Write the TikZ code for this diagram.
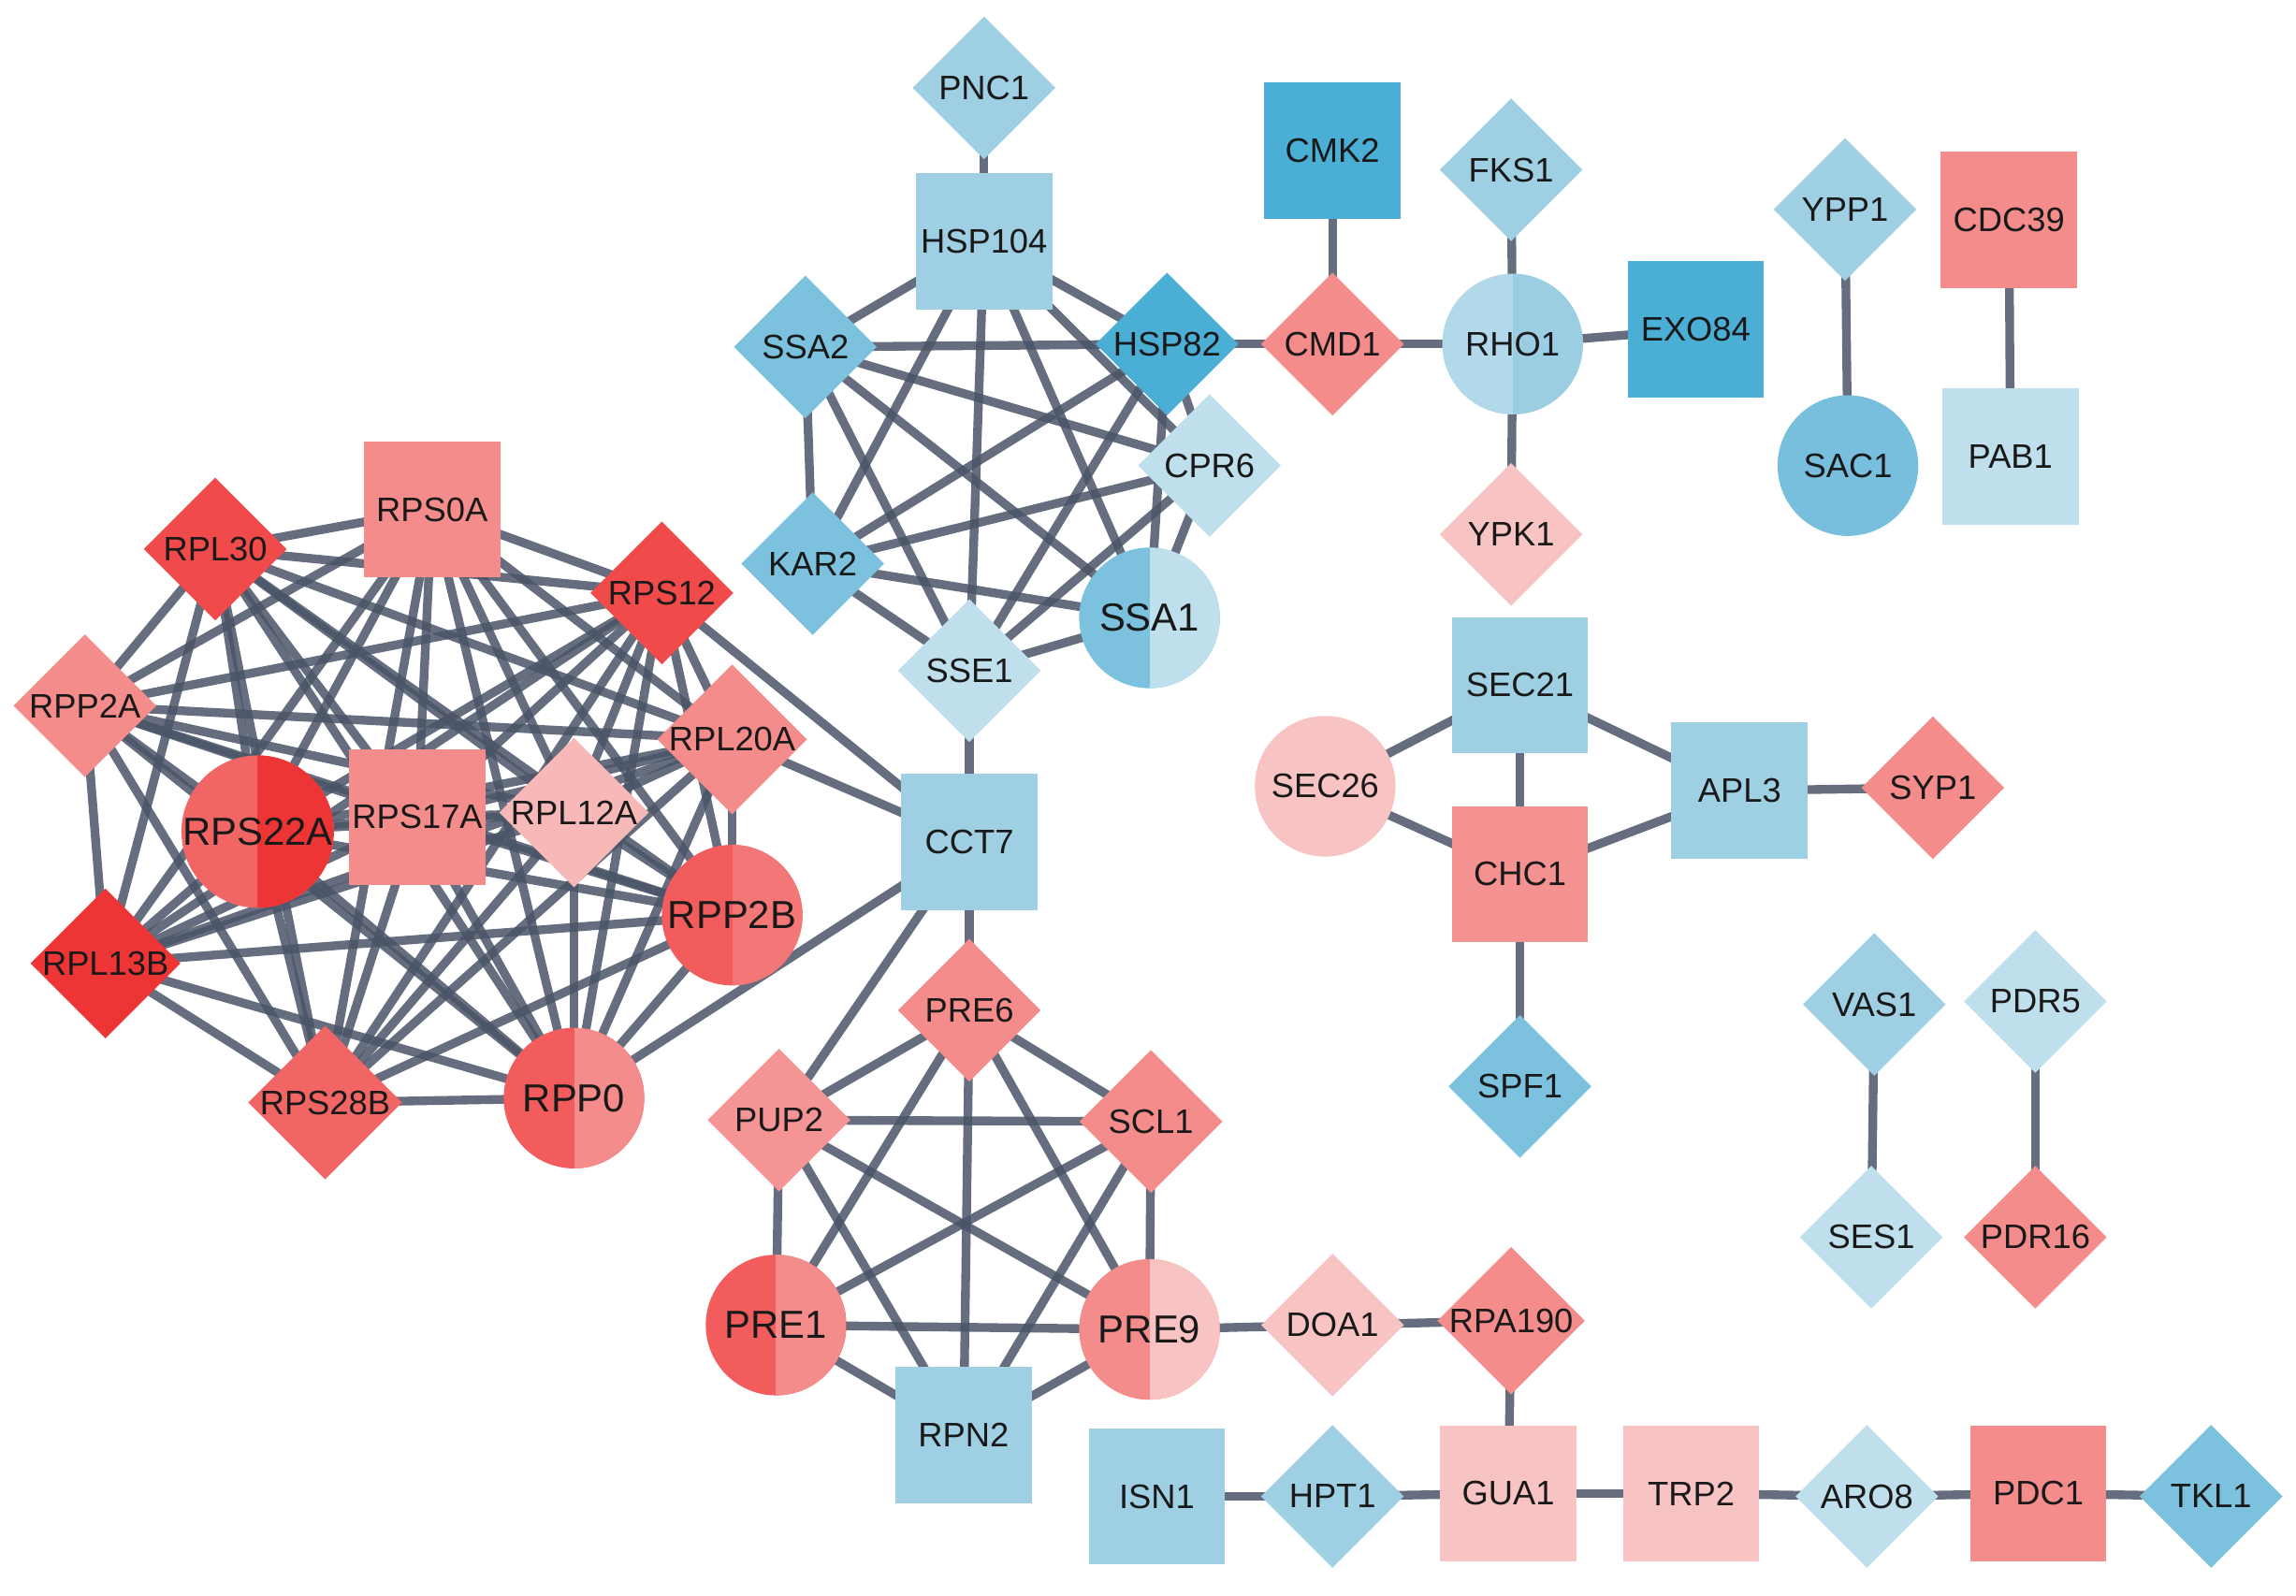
\documentclass[tikz,border=0pt]{standalone}
\usepackage{fontspec}
\setmainfont{Liberation Sans}
\usetikzlibrary{shapes.geometric,backgrounds}
\definecolor{lb}{HTML}{9ECFE3}
\definecolor{vlb}{HTML}{BEDFEB}
\definecolor{mb}{HTML}{7CC1DD}
\definecolor{db}{HTML}{4AAED5}
\definecolor{pk}{HTML}{F48C8C}
\definecolor{lpk}{HTML}{F8C3C3}
\definecolor{rd}{HTML}{F04A4A}
\definecolor{drd}{HTML}{EE3535}
\definecolor{edge}{HTML}{4A5467}
\tikzset{
 every node/.style={font=\fontsize{6.6}{7}\selectfont, text=black!90, inner sep=0pt},
 sq/.style={rectangle, minimum size=0.93cm, fill=#1},
 dm/.style={diamond, minimum size=0.98cm, fill=#1},
 ci/.style={circle, minimum size=0.96cm, fill=#1},
 split/.style 2 args={circle, minimum size=0.96cm, fill=#1,
   path picture={\fill[#2] (path picture bounding box.north) rectangle (path picture bounding box.south east);}},
 big/.style={font=\fontsize{7.6}{9}\selectfont},
 ed/.style={draw=edge, line width=1.7pt, opacity=0.85}
}
\begin{document}
\begin{tikzpicture}[x=0.01cm,y=-0.01cm]
\useasboundingbox (0,0) rectangle (1568,1090);
% nodes
\node[dm=lb] (PNC1) at (672,60) {PNC1};
\node[sq=lb] (HSP104) at (672,165) {HSP104};
\node[sq=db] (CMK2) at (910,103) {CMK2};
\node[dm=lb] (FKS1) at (1032,116) {FKS1};
\node[dm=lb] (YPP1) at (1260,143) {YPP1};
\node[sq=pk] (CDC39) at (1372,150) {CDC39};
\node[dm=mb] (SSA2) at (550,237) {SSA2};
\node[dm=db] (HSP82) at (797,235) {HSP82};
\node[dm=pk] (CMD1) at (910,235) {CMD1};
\node[split={lb!80!white}{lb!95!mb}] (RHO1) at (1033,235) {RHO1};
\node[sq=db] (EXO84) at (1158,225) {EXO84};
\node[dm=vlb] (CPR6) at (826,318) {CPR6};
\node[ci=mb!90!db] (SAC1) at (1262,318) {SAC1};
\node[sq=vlb] (PAB1) at (1373,312) {PAB1};
\node[dm=mb] (KAR2) at (555,385) {KAR2};
\node[split={mb}{vlb}, big] (SSA1) at (785,422) {SSA1};
\node[dm=lpk] (YPK1) at (1032,365) {YPK1};
\node[dm=vlb] (SSE1) at (662,458) {SSE1};
\node[sq=lb] (SEC21) at (1038,468) {SEC21};
\node[ci=lpk] (SEC26) at (905,537) {SEC26};
\node[sq=lb] (APL3) at (1188,540) {APL3};
\node[dm=pk] (SYP1) at (1320,538) {SYP1};
\node[sq=lb] (CCT7) at (662,575) {CCT7};
\node[sq=pk!90!lpk] (CHC1) at (1038,597) {CHC1};
\node[dm=lb] (VAS1) at (1280,686) {VAS1};
\node[dm=vlb] (PDR5) at (1390,684) {PDR5};
\node[dm=mb] (SPF1) at (1038,742) {SPF1};
\node[dm=vlb] (SES1) at (1278,845) {SES1};
\node[dm=pk] (PDR16) at (1390,845) {PDR16};
% ribosome
\node[sq=pk] (RPS0A) at (295,348) {RPS0A};
\node[dm=rd] (RPL30) at (147,375) {RPL30};
\node[dm=rd] (RPS12) at (452,405) {RPS12};
\node[dm=pk] (RPP2A) at (58,482) {RPP2A};
\node[dm=pk] (RPL20A) at (500,505) {RPL20A};
\node[split={rd!85!white}{drd}, big] (RPS22A) at (176,568) {RPS22A};
\node[sq=pk] (RPS17A) at (285,558) {RPS17A};
\node[dm=lpk!80!pk] (RPL12A) at (392,555) {RPL12A};
\node[split={rd!90!white}{rd!75!white}, big] (RPP2B) at (500,625) {RPP2B};
\node[dm=drd] (RPL13B) at (72,658) {RPL13B};
\node[dm=rd!85!white] (RPS28B) at (222,753) {RPS28B};
\node[split={rd!90!white}{pk}, big] (RPP0) at (392,750) {RPP0};
% proteasome
\node[dm=pk] (PRE6) at (662,690) {PRE6};
\node[dm=pk!85!lpk] (PUP2) at (532,765) {PUP2};
\node[dm=pk] (SCL1) at (786,766) {SCL1};
\node[split={rd!90!white}{pk}, big] (PRE1) at (530,905) {PRE1};
\node[split={pk}{lpk}, big] (PRE9) at (785,908) {PRE9};
\node[sq=lb] (RPN2) at (658,980) {RPN2};
\node[dm=lpk] (DOA1) at (910,905) {DOA1};
\node[dm=pk] (RPA190) at (1032,902) {RPA190};
\node[sq=lb] (ISN1) at (790,1022) {ISN1};
\node[dm=lb] (HPT1) at (910,1022) {HPT1};
\node[sq=lpk] (GUA1) at (1030,1020) {GUA1};
\node[sq=lpk] (TRP2) at (1155,1020) {TRP2};
\node[dm=vlb] (ARO8) at (1275,1022) {ARO8};
\node[sq=pk] (PDC1) at (1392,1020) {PDC1};
\node[dm=mb] (TKL1) at (1510,1022) {TKL1};
% edges
\begin{scope}[on background layer]
\def\rib{RPS0A,RPL30,RPS12,RPP2A,RPL20A,RPS22A,RPS17A,RPL12A,RPP2B,RPL13B,RPS28B,RPP0}
\foreach \a [count=\i] in \rib {\foreach \b [count=\j] in \rib {\ifnum\i<\j \draw[ed] (\a.center) -- (\b.center);\fi}}
\def\chap{HSP104,SSA2,HSP82,CPR6,KAR2,SSA1,SSE1}
\foreach \a [count=\i] in \chap {\foreach \b [count=\j] in \chap {\ifnum\i<\j \draw[ed] (\a.center) -- (\b.center);\fi}}
\def\prot{PRE6,PUP2,SCL1,PRE1,PRE9,RPN2}
\foreach \a [count=\i] in \prot {\foreach \b [count=\j] in \prot {\ifnum\i<\j \draw[ed] (\a.center) -- (\b.center);\fi}}
\foreach \a/\b in {PNC1/HSP104, HSP82/CMD1, CMD1/CMK2, CMD1/RHO1, RHO1/FKS1, RHO1/EXO84, RHO1/YPK1,
  SSE1/CCT7, CCT7/PRE6, CCT7/PUP2, CCT7/RPS12, CCT7/RPL20A, CCT7/RPP0,
  PRE9/DOA1, DOA1/RPA190, RPA190/GUA1, ISN1/HPT1, HPT1/GUA1, GUA1/TRP2, TRP2/ARO8, ARO8/PDC1, PDC1/TKL1,
  SEC21/SEC26, SEC21/CHC1, SEC21/APL3, SEC26/CHC1, CHC1/APL3, APL3/SYP1, CHC1/SPF1,
  YPP1/SAC1, CDC39/PAB1, VAS1/SES1, PDR5/PDR16}
  \draw[ed] (\a.center) -- (\b.center);
\end{scope}
\end{tikzpicture}
\end{document}
